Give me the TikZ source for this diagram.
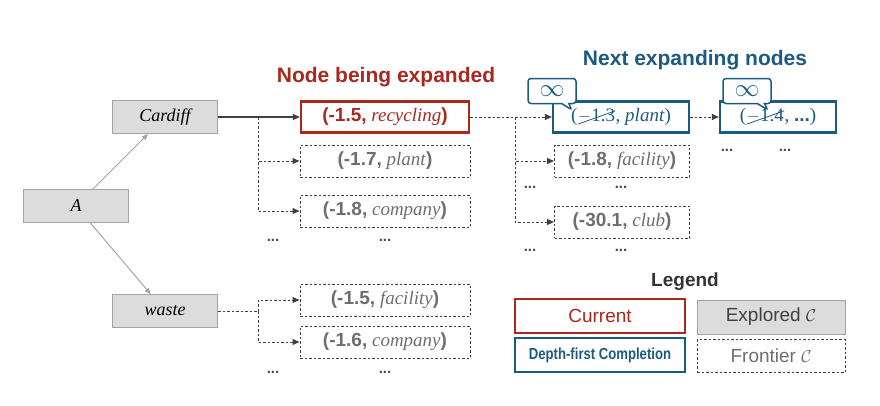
\documentclass[tikz,border=0pt]{standalone}
\usepackage{fontspec}
\setmainfont{Liberation Serif}
\newfontfamily\hv{Liberation Sans}
\newfontfamily\hvn{Liberation Sans}[FakeStretch=0.82]
\usetikzlibrary{positioning, shapes.callouts, arrows.meta}

\definecolor{curred}{HTML}{A8281E}
\definecolor{dfblue}{HTML}{1C5A82}
\definecolor{expfill}{HTML}{DCDCDC}
\definecolor{expline}{HTML}{A3A3A3}
\definecolor{fronttext}{HTML}{6E6E6E}

\newcommand{\num}[1]{{\hv\bfseries #1}}
\newcommand{\struck}[1]{\tikz[baseline=(s.base), x=1pt, y=1pt]{\node[inner sep=0pt,
  minimum width=0pt, minimum height=0pt, draw=none](s){#1};
  \draw[line width=0.8pt, dfblue] ([yshift=-1pt]s.south west)--([yshift=-2pt]s.north east);}}

\tikzset{
  explored/.style={draw=expline, fill=expfill, line width=1pt, minimum width=105pt,
    minimum height=33pt, inner sep=0pt, font=\fontsize{18}{20}\selectfont\itshape},
  current/.style={draw=curred, line width=2.2pt, minimum width=168pt, minimum height=31pt,
    inner sep=0pt, text=curred, font=\fontsize{19}{21}\selectfont},
  frontier/.style={draw=black!75, dash pattern=on 2.5pt off 2pt, line width=1pt, minimum width=170pt,
    minimum height=32pt, inner sep=0pt, text=fronttext, font=\fontsize{19}{21}\selectfont},
  dfc/.style={draw=dfblue, line width=2.2pt, minimum height=31pt, inner sep=0pt,
    text=dfblue, font=\fontsize{19}{21}\selectfont},
  bubble/.style={rectangle callout, draw=dfblue, fill=white, line width=1.5pt,
    rounded corners=3pt, minimum width=48pt, minimum height=25pt, inner sep=0pt,
    text=dfblue, font=\fontsize{28}{28}\selectfont},
  dots/.style={text=black!70, font=\fontsize{15}{15}\selectfont\hv\bfseries},
  tree/.style={-{Triangle[length=6pt,width=5pt]}, expline, line width=1pt},
  main/.style={-{Triangle[length=7pt,width=6pt]}, black!75, line width=1.2pt},
  branch/.style={-{Triangle[length=7pt,width=6pt]}, black!75, dash pattern=on 2.5pt off 2pt, line width=1pt},
  title/.style={font=\fontsize{21}{23}\selectfont\hv\bfseries}
}

\begin{document}
\begin{tikzpicture}[x=1pt, y=-1pt]
    \useasboundingbox (0,0) rectangle (880,405);

    % Explored nodes
    \node[explored] (a)       at (76,206)  {A};
    \node[explored] (cardiff) at (165,117) {Cardiff};
    \node[explored] (waste)   at (165,311) {waste};

    % Children of Cardiff
    \node[current]  (recyc)  at (385,117) {\num{(-1.5,} \textit{recycling}\num{)}};
    \node[frontier] (plant)  at (385,161) {\num{(-1.7,} \textit{plant}\num{)}};
    \node[frontier] (comp)   at (385,211) {\num{(-1.8,} \textit{company}\num{)}};
    \node[dots] at (273,240) {...};
    \node[dots] at (385,240) {...};

    % Children of waste
    \node[frontier] (facw)   at (385,300) {\num{(-1.5,} \textit{facility}\num{)}};
    \node[frontier] (compw)  at (385,342) {\num{(-1.6,} \textit{company}\num{)}};
    \node[dots] at (273,372) {...};
    \node[dots] at (385,372) {...};

    % Children of recycling
    \node[dfc, minimum width=136pt] (plant2) at (621,117) {(\struck{$-$1.3}, \textit{plant})};
    \node[frontier, minimum width=135pt] (fac2)  at (622,161) {\num{(-1.8,} \textit{facility}\num{)}};
    \node[frontier, minimum width=135pt] (club)  at (622,222) {\num{(-30.1,} \textit{club}\num{)}};
    \node[dots] at (530,187) {...};
    \node[dots] at (621,187) {...};
    \node[dots] at (530,250) {...};
    \node[dots] at (621,250) {...};

    % Next level
    \node[dfc, minimum width=116pt] (next) at (778,117) {(\struck{$-$1.4}, \num{...})};
    \node[dots] at (727,150) {...};
    \node[dots] at (785,150) {...};

    % Infinity bubbles
    \node[bubble, callout absolute pointer={(572,110)}] (inf1) at (552,91) {$\infty$};
    \node[bubble, callout absolute pointer={(768,110)}] (inf2) at (747,91) {$\infty$};

    % Titles
    \node[title, text=curred] (ttlcur) at (386,77) {Node being expanded};
    \node[title, text=dfblue] (ttlnext) at (695,60) {Next expanding nodes};

    % Legend
    \node[font=\fontsize{19}{21}\selectfont\hv\bfseries, text=black!80] (leg) at (685,282) {Legend};
    \node[current, minimum width=170pt, minimum height=34pt, font=\fontsize{19}{21}\selectfont\hv]
        (lcur) at (600,316) {Current};
    \node[explored, minimum width=148pt, minimum height=34pt, font=\fontsize{19}{21}\selectfont\hv,
        text=black!75] (lexp) at (771,317) {Explored $\mathcal{C}$};
    \node[dfc, minimum width=170pt, minimum height=34pt, font=\fontsize{16}{18}\selectfont\hvn\bfseries]
        (ldfc) at (600,355) {Depth-first Completion};
    \node[frontier, minimum width=148pt, minimum height=33pt, font=\fontsize{19}{21}\selectfont\hv]
        (lfront) at (771,356) {Frontier $\mathcal{C}$};

    % Connectors
    \draw[tree] (a) -- (cardiff);
    \draw[tree] (a) -- (waste);
    \draw[main] (cardiff) -- (recyc);
    \coordinate (jc) at (258,117);
    \draw[branch] (jc) |- (plant);
    \draw[branch] (jc) |- (comp);
    \coordinate (jw) at (258,311);
    \draw[black!75, dash pattern=on 2.5pt off 2pt, line width=1pt] (waste) -- (jw);
    \draw[branch] (jw) |- (facw);
    \draw[branch] (jw) |- (compw);
    \coordinate (jr) at (515,117);
    \draw[branch] (recyc) -- (plant2);
    \draw[branch] (jr) |- (fac2);
    \draw[branch] (jr) |- (club);
    \draw[branch] (plant2) -- (next);
\end{tikzpicture}
\end{document}
